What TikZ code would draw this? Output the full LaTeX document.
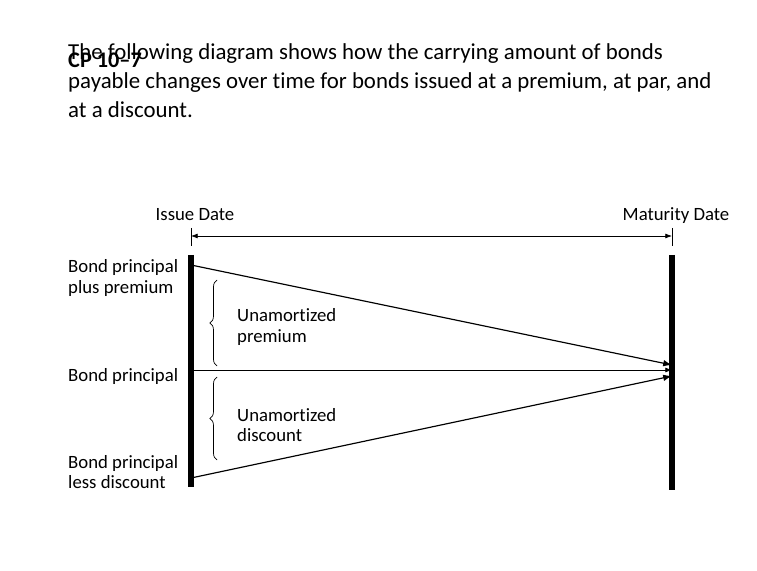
\documentclass[tikz,border=0pt]{standalone}
\usepackage{fontspec}
\setmainfont{Carlito}[Ligatures=NoCommon]
\usetikzlibrary{arrows.meta, positioning, decorations.pathreplacing}

\begin{document}
\begin{tikzpicture}[x=0.03cm, y=-0.03cm, >=Latex,
		Bar/.style={line width=4.5pt},
		Lbl/.style={font=\fontsize{16}{17.5}\selectfont, align=left, anchor=west, inner sep=0pt},
		Brace/.style={decorate, decoration={brace, amplitude=6pt}, line width=0.6pt}]
	\useasboundingbox (0,0) rectangle (757,571);
	% heading
	\node[anchor=base west, inner sep=0pt, font=\fontsize{19}{22}\selectfont\bfseries] (title) at (68,68) {CP 10--7};
	\node[anchor=base west, inner sep=0pt, align=left, font=\fontsize{19.5}{25}\selectfont] (intro) at (68,118)
		{The following diagram shows how the carrying amount of bonds\\
		payable changes over time for bonds issued at a premium, at par, and\\
		at a discount.};
	% bars
	\coordinate (ltop) at (191,255); \coordinate (lbot) at (191,487);
	\coordinate (rtop) at (672,255); \coordinate (rbot) at (672,490);
	\draw[Bar] (ltop) -- (lbot);
	\draw[Bar] (rtop) -- (rbot);
	% time span
	\coordinate (ia) at (191,228); \coordinate (ib) at (191,246);
	\coordinate (ma) at (672,228); \coordinate (mb) at (672,246);
	\draw[line width=0.6pt] (ia) -- (ib) (ma) -- (mb);
	\draw[<->, line width=0.6pt] (191,236) -- (672,236);
	\node[Lbl, anchor=base] (issue) at (195,221) {Issue Date};
	\node[Lbl, anchor=base] (maturity) at (676,221) {Maturity Date};
	% carrying amounts
	\coordinate (prem) at (191,265); \coordinate (par) at (191,370); \coordinate (disc) at (191,478);
	\coordinate (mprem) at (672,365); \coordinate (mpar) at (672,370); \coordinate (mdisc) at (672,376);
	\draw[->, line width=1pt] (prem) -- (mprem);
	\draw[->, line width=0.6pt] (par) -- (mpar);
	\draw[->, line width=1pt] (disc) -- (mdisc);
	% braces
	\draw[Brace] (217,366) -- (217,280);
	\draw[Brace] (217,460) -- (217,377);
	\node[Lbl] (uprem) at (237,327) {Unamortized\\premium};
	\node[Lbl] (udisc) at (237,425) {Unamortized\\discount};
	% left labels
	\node[Lbl] (bpp) at (68,278) {Bond principal\\plus premium};
	\node[Lbl] (bp) at (68,377) {Bond principal};
	\node[Lbl] (bpl) at (68,472) {Bond principal\\less discount};
\end{tikzpicture}
\end{document}
